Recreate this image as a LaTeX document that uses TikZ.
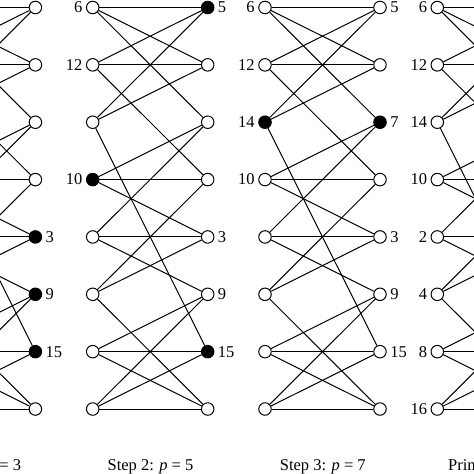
\documentclass[tikz,border=0pt]{standalone}
\usepackage{fontspec}
\setmainfont{Liberation Serif}
\begin{document}
\begin{tikzpicture}[x=1pt,y=-1pt,
  every node/.style={font=\fontsize{16.5}{20}\selectfont},
  vert/.style={circle,draw=black,fill=white,line width=1pt,minimum size=12.5pt,inner sep=0pt},
  hit/.style={fill=black},
  edge/.style={line width=1pt,black},
  caption/.style={anchor=base}]
\useasboundingbox (0,0) rectangle (474,474);
\clip (0,0) rectangle (474,474);
\fill[white] (0,0) rectangle (474,474);
\tikzset{
  s1R4/.style={hit,label=right:3},
  s1R5/.style={hit,label=right:9},
  s1R6/.style={hit,label=right:15},
  s2L0/.style={label=left:6},
  s2L1/.style={label=left:12},
  s2L3/.style={hit,label=left:10},
  s2R0/.style={hit,label=right:5},
  s2R4/.style={label=right:3},
  s2R5/.style={label=right:9},
  s2R6/.style={hit,label=right:15},
  s3L0/.style={label=left:6},
  s3L1/.style={label=left:12},
  s3L2/.style={hit,label=left:14},
  s3L3/.style={label=left:10},
  s3R0/.style={label=right:5},
  s3R2/.style={hit,label=right:7},
  s3R4/.style={label=right:3},
  s3R5/.style={label=right:9},
  s3R6/.style={label=right:15},
  s4L0/.style={label=left:6},
  s4L1/.style={label=left:12},
  s4L2/.style={label=left:14},
  s4L3/.style={label=left:10},
  s4L4/.style={label=left:2},
  s4L5/.style={label=left:4},
  s4L6/.style={label=left:8},
  s4L7/.style={label=left:16}
}
\foreach \k in {1,2,3,4}{
  \foreach \i in {0,...,7}{
    \pgfmathsetmacro{\xl}{92.7+172.3*(\k-2)}
    \pgfmathsetmacro{\xr}{207.7+172.3*(\k-2)}
    \pgfmathsetmacro{\yy}{7.5+57.36*\i}
    \begingroup
    \edef\mkL{\noexpand\node[vert,s\k L\i/.try] (s\k L\i) at (\xl,\yy) {};}
    \edef\mkR{\noexpand\node[vert,s\k R\i/.try] (s\k R\i) at (\xr,\yy) {};}
    \mkL\mkR
    \endgroup
  }
}
\foreach \k in {1,2,3,4}{
  \foreach \a/\b in {0/0,0/1,0/2,1/0,1/1,1/3,2/0,2/1,2/6,3/2,3/3,3/4,4/2,4/4,4/5,5/3,5/4,5/7,6/5,6/6,6/7,7/5,7/6,7/7}{
    \draw[edge] (s\k L\a) -- (s\k R\b);
  }
}
\node[caption] (cap1) at (-21.8,470.7) {Step 1: \textit{p} = 3};
\node[caption] (cap2) at (150.5,470.7) {Step 2: \textit{p} = 5};
\node[caption] (cap3) at (322.8,470.7) {Step 3: \textit{p} = 7};
\node[caption,anchor=base west,inner sep=0pt] (cap4) at (448,470.7) {Primes};
\end{tikzpicture}
\end{document}
